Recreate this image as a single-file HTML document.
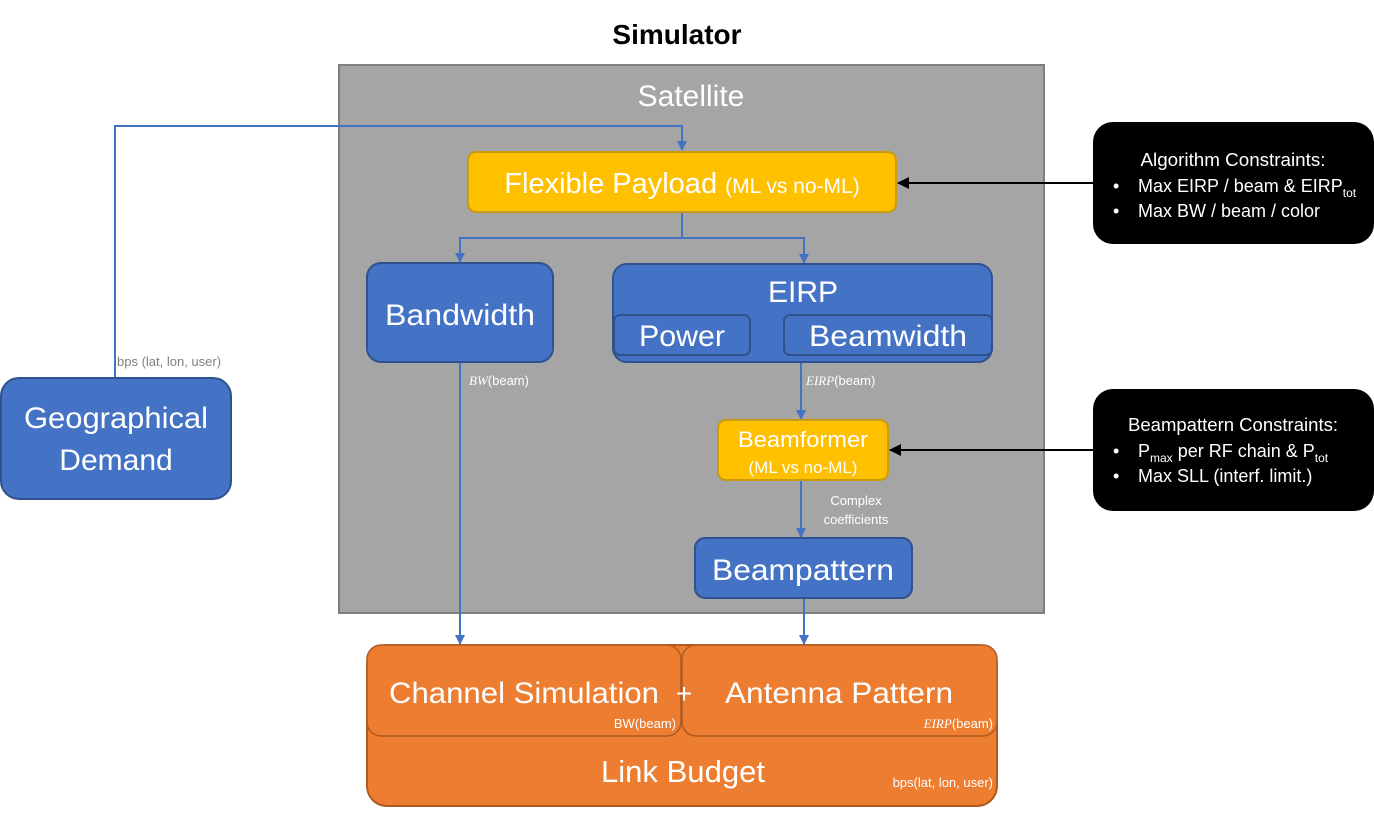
<!DOCTYPE html>
<html><head><meta charset="utf-8"><style>
html,body{margin:0;padding:0;background:#fff}
svg{display:block}
text{font-family:"Liberation Sans",sans-serif}
</style></head><body>
<svg width="1374" height="814" viewBox="0 0 1374 814" xmlns="http://www.w3.org/2000/svg">
<defs>
<marker id="ab" markerWidth="10" markerHeight="10" refX="9" refY="5" orient="auto" markerUnits="userSpaceOnUse"><path d="M0,0 L10,5 L0,10 z" fill="#4472c4"/></marker>
<marker id="ak" markerWidth="12" markerHeight="12" refX="11" refY="6" orient="auto" markerUnits="userSpaceOnUse"><path d="M0,0 L12,6 L0,12 z" fill="#000"/></marker>
</defs>
<text x="677" y="44" font-size="28" font-weight="bold" text-anchor="middle" fill="#000">Simulator</text>
<rect x="339" y="65" width="705" height="548" fill="#a5a5a5" stroke="#7f7f7f" stroke-width="2"/>
<text x="691" y="106" font-size="30" text-anchor="middle" fill="#fff">Satellite</text>

<g stroke="#4472c4" stroke-width="2" fill="none">
<polyline points="115,378 115,126 682,126 682,150" marker-end="url(#ab)"/>
<polyline points="682,212 682,238 460,238 460,262" marker-end="url(#ab)"/>
<polyline points="682,238 804,238 804,263" marker-end="url(#ab)"/>
<line x1="460" y1="362" x2="460" y2="644" marker-end="url(#ab)"/>
<line x1="801" y1="362" x2="801" y2="419" marker-end="url(#ab)"/>
<line x1="801" y1="480" x2="801" y2="537" marker-end="url(#ab)"/>
<line x1="804" y1="598" x2="804" y2="644" marker-end="url(#ab)"/>
</g>
<g stroke="#000" stroke-width="2">
<line x1="1093" y1="183" x2="898" y2="183" marker-end="url(#ak)"/>
<line x1="1093" y1="450" x2="890" y2="450" marker-end="url(#ak)"/>
</g>

<rect x="468" y="152" width="428" height="60" rx="8" fill="#ffc000" stroke="#c89a10" stroke-width="2"/>
<text x="682" y="193" text-anchor="middle" fill="#fff"><tspan font-size="29">Flexible Payload </tspan><tspan font-size="21">(ML vs no-ML)</tspan></text>

<rect x="367" y="263" width="186" height="99" rx="14" fill="#4472c4" stroke="#2f528f" stroke-width="2"/>
<text x="460" y="325" font-size="30" text-anchor="middle" fill="#fff" textLength="150" lengthAdjust="spacingAndGlyphs">Bandwidth</text>

<rect x="613" y="264" width="379" height="98" rx="14" fill="#4472c4" stroke="#2f528f" stroke-width="2"/>
<text x="803" y="302" font-size="30" text-anchor="middle" fill="#fff">EIRP</text>
<rect x="614" y="315" width="136" height="40" rx="6" fill="#4472c4" stroke="#2f528f" stroke-width="2"/>
<text x="682" y="346" font-size="30" text-anchor="middle" fill="#fff" textLength="86" lengthAdjust="spacingAndGlyphs">Power</text>
<rect x="784" y="315" width="208" height="40" rx="6" fill="#4472c4" stroke="#2f528f" stroke-width="2"/>
<text x="888" y="346" font-size="30" text-anchor="middle" fill="#fff" textLength="158" lengthAdjust="spacingAndGlyphs">Beamwidth</text>

<text x="469" y="385" font-size="13" fill="#fff"><tspan font-style="italic" font-family="Liberation Serif">BW</tspan>(beam)</text>
<text x="806" y="385" font-size="13" fill="#fff"><tspan font-style="italic" font-family="Liberation Serif">EIRP</tspan>(beam)</text>

<rect x="718" y="420" width="170" height="60" rx="8" fill="#ffc000" stroke="#c89a10" stroke-width="2"/>
<text x="803" y="447" font-size="22" text-anchor="middle" fill="#fff" textLength="130" lengthAdjust="spacingAndGlyphs">Beamformer</text>
<text x="803" y="473" font-size="17" text-anchor="middle" fill="#fff">(ML vs no-ML)</text>
<text x="856" y="505" font-size="13" text-anchor="middle" fill="#fff">Complex</text>
<text x="856" y="524" font-size="13" text-anchor="middle" fill="#fff">coefficients</text>

<rect x="695" y="538" width="217" height="60" rx="10" fill="#4472c4" stroke="#2f528f" stroke-width="2"/>
<text x="803" y="580" font-size="30" text-anchor="middle" fill="#fff" textLength="182" lengthAdjust="spacingAndGlyphs">Beampattern</text>

<rect x="1" y="378" width="230" height="121" rx="18" fill="#4472c4" stroke="#2f528f" stroke-width="2"/>
<text x="116" y="428" font-size="30" text-anchor="middle" fill="#fff" textLength="184" lengthAdjust="spacingAndGlyphs">Geographical</text>
<text x="116" y="470" font-size="30" text-anchor="middle" fill="#fff">Demand</text>
<text x="117" y="366" font-size="13" fill="#808080">bps (lat, lon, user)</text>

<rect x="367" y="645" width="630" height="161" rx="20" fill="#ed7d31" stroke="#ae5a21" stroke-width="2"/>
<rect x="367" y="645" width="314" height="91" rx="14" fill="#ed7d31" stroke="#ae5a21" stroke-width="1.5"/>
<rect x="682" y="645" width="315" height="91" rx="14" fill="#ed7d31" stroke="#ae5a21" stroke-width="1.5"/>
<text x="524" y="703" font-size="30" text-anchor="middle" fill="#fff" textLength="270" lengthAdjust="spacingAndGlyphs">Channel Simulation</text>
<text x="684" y="703" font-size="28" text-anchor="middle" fill="#fff">+</text>
<text x="839" y="703" font-size="30" text-anchor="middle" fill="#fff" textLength="228" lengthAdjust="spacingAndGlyphs">Antenna Pattern</text>
<text x="676" y="728" font-size="13" text-anchor="end" fill="#fff">BW(beam)</text>
<text x="993" y="728" font-size="13" text-anchor="end" fill="#fff"><tspan font-style="italic" font-family="Liberation Serif">EIRP</tspan>(beam)</text>
<text x="683" y="782" font-size="31" text-anchor="middle" fill="#fff" textLength="164" lengthAdjust="spacingAndGlyphs">Link Budget</text>
<text x="993" y="787" font-size="13" text-anchor="end" fill="#fff">bps(lat, lon, user)</text>

<rect x="1093" y="122" width="281" height="122" rx="20" fill="#000"/>
<text x="1233" y="166" font-size="18" text-anchor="middle" fill="#fff" textLength="185" lengthAdjust="spacingAndGlyphs">Algorithm Constraints:</text>
<text x="1113" y="192" font-size="18" fill="#fff">•</text>
<text x="1138" y="192" font-size="18" fill="#fff">Max EIRP / beam &amp; EIRP<tspan font-size="12" dy="5">tot</tspan></text>
<text x="1113" y="217" font-size="18" fill="#fff">•</text>
<text x="1138" y="217" font-size="18" fill="#fff">Max BW / beam / color</text>

<rect x="1093" y="389" width="281" height="122" rx="20" fill="#000"/>
<text x="1233" y="431" font-size="18" text-anchor="middle" fill="#fff" textLength="210" lengthAdjust="spacingAndGlyphs">Beampattern Constraints:</text>
<text x="1113" y="457" font-size="18" fill="#fff">•</text>
<text x="1138" y="457" font-size="18" fill="#fff">P<tspan font-size="12" dy="5">max</tspan><tspan dy="-5"> per RF chain &amp; P</tspan><tspan font-size="12" dy="5">tot</tspan></text>
<text x="1113" y="482" font-size="18" fill="#fff">•</text>
<text x="1138" y="482" font-size="18" fill="#fff">Max SLL (interf. limit.)</text>
</svg>
</body></html>
